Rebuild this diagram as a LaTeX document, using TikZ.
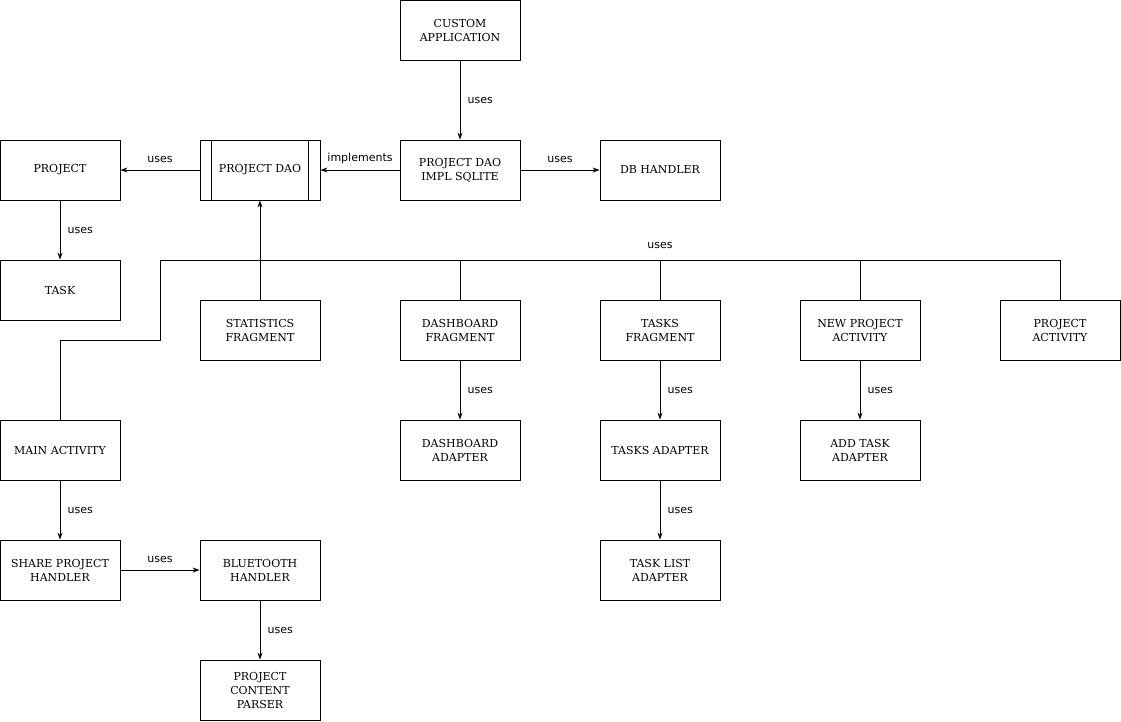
\documentclass[tikz,border=0pt]{standalone}
\usepackage{fontspec}
\setmainfont{DejaVu Serif}
\newfontfamily\lblfont{DejaVu Sans}
\usetikzlibrary{arrows.meta}
\begin{document}
\begin{tikzpicture}[x=1pt,y=-1pt,
  box/.style={draw,minimum width=120pt,minimum height=60pt,inner sep=1pt,align=center,font=\fontsize{11}{14}\selectfont},
  lbl/.style={font=\lblfont\fontsize{11}{13}\selectfont},
  arr/.style={-{Stealth[length=7pt,width=5pt]}},
  line width=0.8pt]
\useasboundingbox (0,0) rectangle (1121,721);
\node[box] (custom) at (460,30) {CUSTOM\\APPLICATION};
\node[box] (project) at (60,170) {PROJECT};
\node[box] (dao) at (260,170) {PROJECT DAO};
\draw ([xshift=12pt]dao.north west) -- ([xshift=12pt]dao.south west);
\draw ([xshift=-12pt]dao.north east) -- ([xshift=-12pt]dao.south east);
\node[box] (impl) at (460,170) {PROJECT DAO\\IMPL SQLITE};
\node[box] (db) at (660,170) {DB HANDLER};
\node[box] (task) at (60,290) {TASK};
\node[box] (stat) at (260,330) {STATISTICS\\FRAGMENT};
\node[box] (dash) at (460,330) {DASHBOARD\\FRAGMENT};
\node[box] (tasksf) at (660,330) {TASKS\\FRAGMENT};
\node[box] (newp) at (860,330) {NEW PROJECT\\ACTIVITY};
\node[box] (pact) at (1060,330) {PROJECT\\ACTIVITY};
\node[box] (main) at (60,450) {MAIN ACTIVITY};
\node[box] (dasha) at (460,450) {DASHBOARD\\ADAPTER};
\node[box] (tasksa) at (660,450) {TASKS ADAPTER};
\node[box] (addt) at (860,450) {ADD TASK\\ADAPTER};
\node[box] (share) at (60,570) {SHARE PROJECT\\HANDLER};
\node[box] (bt) at (260,570) {BLUETOOTH\\HANDLER};
\node[box] (tla) at (660,570) {TASK LIST\\ADAPTER};
\node[box] (parser) at (260,690) {PROJECT\\CONTENT\\PARSER};
\coordinate (bl) at (160,260);
\coordinate (br) at (1060,260);

\draw[arr] (custom) -- node[lbl,right=4pt]{uses} (impl);
\draw[arr] (dao) -- node[lbl,above=4pt]{uses} (project);
\draw[arr] (impl) -- node[lbl,above=2pt]{implements} (dao);
\draw[arr] (impl) -- node[lbl,above=4pt]{uses} (db);
\draw[arr] (project) -- node[lbl,right=4pt]{uses} (task);
\draw[arr] (stat) -- (dao);
\draw (main.north) |- (160,340) -- (bl) -- (br) -- (pact.north);
\node[lbl] at (660,245) {uses};
\draw (dash.north) -- (460,260);
\draw (tasksf.north) -- (660,260);
\draw (newp.north) -- (860,260);
\draw[arr] (dash) -- node[lbl,right=4pt]{uses} (dasha);
\draw[arr] (tasksf) -- node[lbl,right=4pt]{uses} (tasksa);
\draw[arr] (newp) -- node[lbl,right=4pt]{uses} (addt);
\draw[arr] (tasksa) -- node[lbl,right=4pt]{uses} (tla);
\draw[arr] (main) -- node[lbl,right=4pt]{uses} (share);
\draw[arr] (share) -- node[lbl,above=4pt]{uses} (bt);
\draw[arr] (bt) -- node[lbl,right=4pt]{uses} (parser);
\end{tikzpicture}
\end{document}
